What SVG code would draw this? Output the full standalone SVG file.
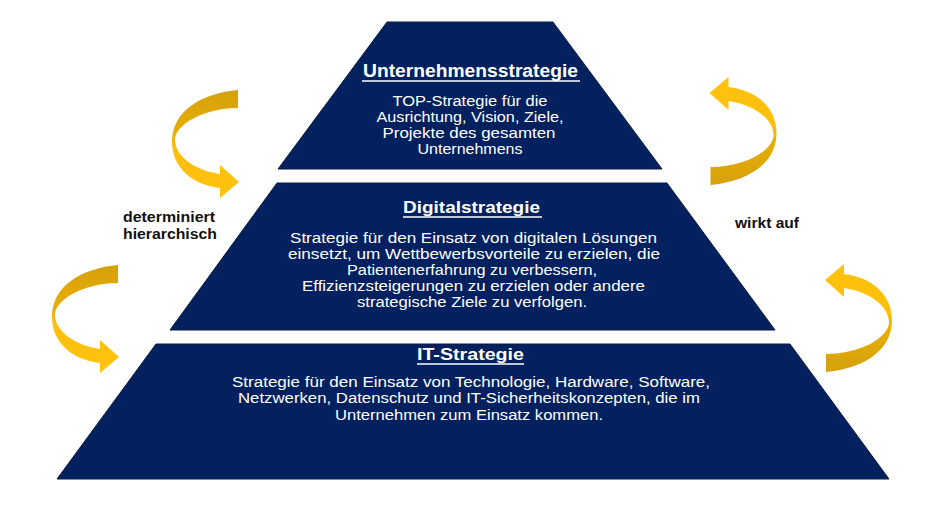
<svg xmlns="http://www.w3.org/2000/svg" width="945" height="532" viewBox="0 0 945 532">
  <defs>
    <style>
      .tier { fill: #03215F; stroke: #0B1A40; stroke-width: 1; }
      .title { font-family: "Liberation Sans", Arial, sans-serif; font-weight: bold; fill: #FFFFFF; text-anchor: middle; }
      .body { font-family: "Liberation Sans", Arial, sans-serif; font-size: 15.5px; fill: #FFFFFF; text-anchor: middle; }
      .label { font-family: "Liberation Sans", Arial, sans-serif; font-weight: bold; font-size: 14px; fill: #111111; }
      .ul { stroke: #FFFFFF; stroke-width: 1.5; }
      .arrow { fill: url(#gold); }
    </style>
    <linearGradient id="gold" x1="0" y1="0" x2="0" y2="1">
      <stop offset="0" stop-color="#D4A00C"/>
      <stop offset="0.4" stop-color="#E9AE06"/>
      <stop offset="0.55" stop-color="#FDBF0A"/>
      <stop offset="1" stop-color="#FFC20E"/>
    </linearGradient>
    <path id="curl" d="M0,0 C-35,3 -66,20 -66,52 C-66,78 -45,95 -18,98 L-18,108 L1,92 L-18,75 L-18,84 C-45,80 -63,65 -63,50 C-63,35 -35,18 0,18 Z"/>
  </defs>

  <g id="connectors">
    <use href="#curl" class="arrow" transform="translate(238,90)"/>
    <use href="#curl" class="arrow" transform="translate(118,265)"/>
    <use href="#curl" class="arrow" transform="translate(710.5,185) rotate(180)"/>
    <use href="#curl" class="arrow" transform="translate(826,372) rotate(180)"/>
  </g>

  <g id="label-determiniert">
    <text class="label" x="123" y="222" textLength="92" lengthAdjust="spacingAndGlyphs">determiniert</text>
    <text class="label" x="123" y="239" textLength="94" lengthAdjust="spacingAndGlyphs">hierarchisch</text>
  </g>
  <g id="label-wirkt">
    <text class="label" x="735" y="228" textLength="64" lengthAdjust="spacingAndGlyphs">wirkt auf</text>
  </g>

  <g id="unternehmensstrategie">
    <polygon class="tier" points="387,22 553,22 662,169 278,169"/>
    <text class="title" x="470.5" y="77" font-size="18" textLength="215" lengthAdjust="spacingAndGlyphs">Unternehmensstrategie</text>
    <line class="ul" x1="362" y1="81" x2="580" y2="81"/>
    <text class="body" x="470" y="106" textLength="155" lengthAdjust="spacingAndGlyphs">TOP-Strategie für die</text>
    <text class="body" x="470" y="122" textLength="187" lengthAdjust="spacingAndGlyphs">Ausrichtung, Vision, Ziele,</text>
    <text class="body" x="469" y="138" textLength="173" lengthAdjust="spacingAndGlyphs">Projekte des gesamten</text>
    <text class="body" x="470" y="154" textLength="105" lengthAdjust="spacingAndGlyphs">Unternehmens</text>
  </g>

  <g id="digitalstrategie">
    <polygon class="tier" points="277,183 667,183 775,330 170,330"/>
    <text class="title" x="471.5" y="213" font-size="17" textLength="137" lengthAdjust="spacingAndGlyphs">Digitalstrategie</text>
    <line class="ul" x1="403" y1="217" x2="542" y2="217"/>
    <text class="body" x="473.5" y="243" textLength="367" lengthAdjust="spacingAndGlyphs">Strategie für den Einsatz von digitalen Lösungen</text>
    <text class="body" x="474" y="259" textLength="372" lengthAdjust="spacingAndGlyphs">einsetzt, um Wettbewerbsvorteile zu erzielen, die</text>
    <text class="body" x="472" y="275" textLength="250" lengthAdjust="spacingAndGlyphs">Patientenerfahrung zu verbessern,</text>
    <text class="body" x="473.5" y="291" textLength="343" lengthAdjust="spacingAndGlyphs">Effizienzsteigerungen zu erzielen oder andere</text>
    <text class="body" x="472" y="307" textLength="230" lengthAdjust="spacingAndGlyphs">strategische Ziele zu verfolgen.</text>
  </g>

  <g id="it-strategie">
    <polygon class="tier" points="156,344 790,344 889,479 57,479"/>
    <text class="title" x="470.5" y="360" font-size="17" textLength="107" lengthAdjust="spacingAndGlyphs">IT-Strategie</text>
    <line class="ul" x1="417" y1="364" x2="524" y2="364"/>
    <text class="body" x="471" y="387" textLength="478" lengthAdjust="spacingAndGlyphs">Strategie für den Einsatz von Technologie, Hardware, Software,</text>
    <text class="body" x="469" y="403" textLength="462" lengthAdjust="spacingAndGlyphs">Netzwerken, Datenschutz und IT-Sicherheitskonzepten, die im</text>
    <text class="body" x="469" y="420" textLength="268" lengthAdjust="spacingAndGlyphs">Unternehmen zum Einsatz kommen.</text>
  </g>
</svg>
